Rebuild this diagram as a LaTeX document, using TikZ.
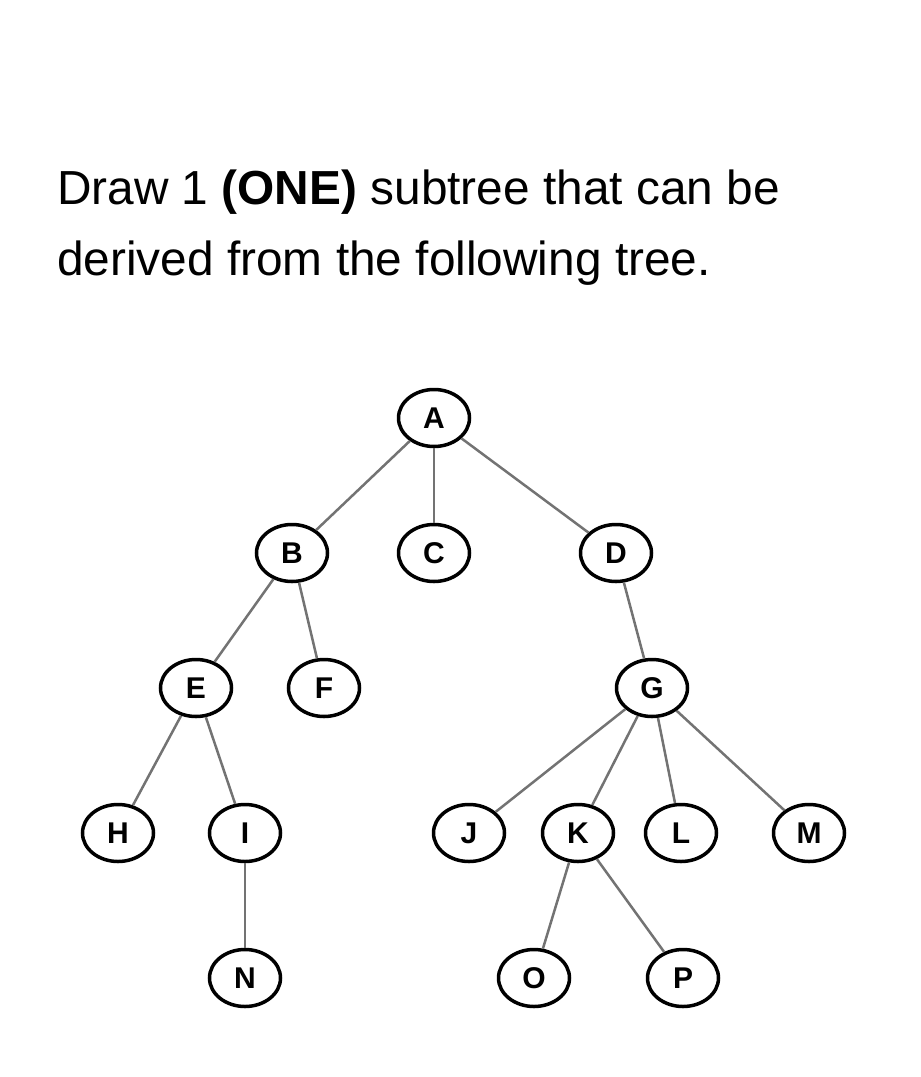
\documentclass[tikz,border=0pt]{standalone}
\usepackage{fontspec}
\setmainfont{Liberation Sans}
\usetikzlibrary{shapes.geometric}

\begin{document}
\begin{tikzpicture}[x=1pt, y=-1pt,
  vertex/.style={draw, ellipse, line width=3.5pt, minimum width=71pt, minimum height=57pt,
    inner sep=0pt, font=\fontsize{30}{30}\selectfont\bfseries},
  branch/.style={draw=black!55, line width=2.5pt},
  prompt/.style={anchor=base west, inner sep=0pt, font=\fontsize{47.8}{56}\selectfont}
]
\useasboundingbox (0,0) rectangle (921,1077);

\node[prompt] (line1) at (57,204) {Draw 1 \textbf{(ONE)} subtree that can be};
\node[prompt] (line2) at (57,275) {derived from the following tree.};

\node[vertex] (A) at (434,418) {A};
\node[vertex] (B) at (292,553) {B};
\node[vertex] (C) at (434,553) {C};
\node[vertex] (D) at (616,553) {D};
\node[vertex] (E) at (196,688) {E};
\node[vertex] (F) at (324,688) {F};
\node[vertex] (G) at (652,688) {G};
\node[vertex] (H) at (118,833) {H};
\node[vertex] (I) at (245,833) {I};
\node[vertex] (J) at (469,833) {J};
\node[vertex] (K) at (578,833) {K};
\node[vertex] (L) at (681,833) {L};
\node[vertex] (M) at (809,833) {M};
\node[vertex] (N) at (245,978) {N};
\node[vertex] (O) at (534,978) {O};
\node[vertex] (P) at (683,978) {P};

\foreach \u/\v in {A/B, A/C, A/D, B/E, B/F, D/G, E/H, E/I, I/N,
                   G/J, G/K, G/L, G/M, K/O, K/P}
  \draw[branch] (\u) -- (\v);
\end{tikzpicture}
\end{document}
